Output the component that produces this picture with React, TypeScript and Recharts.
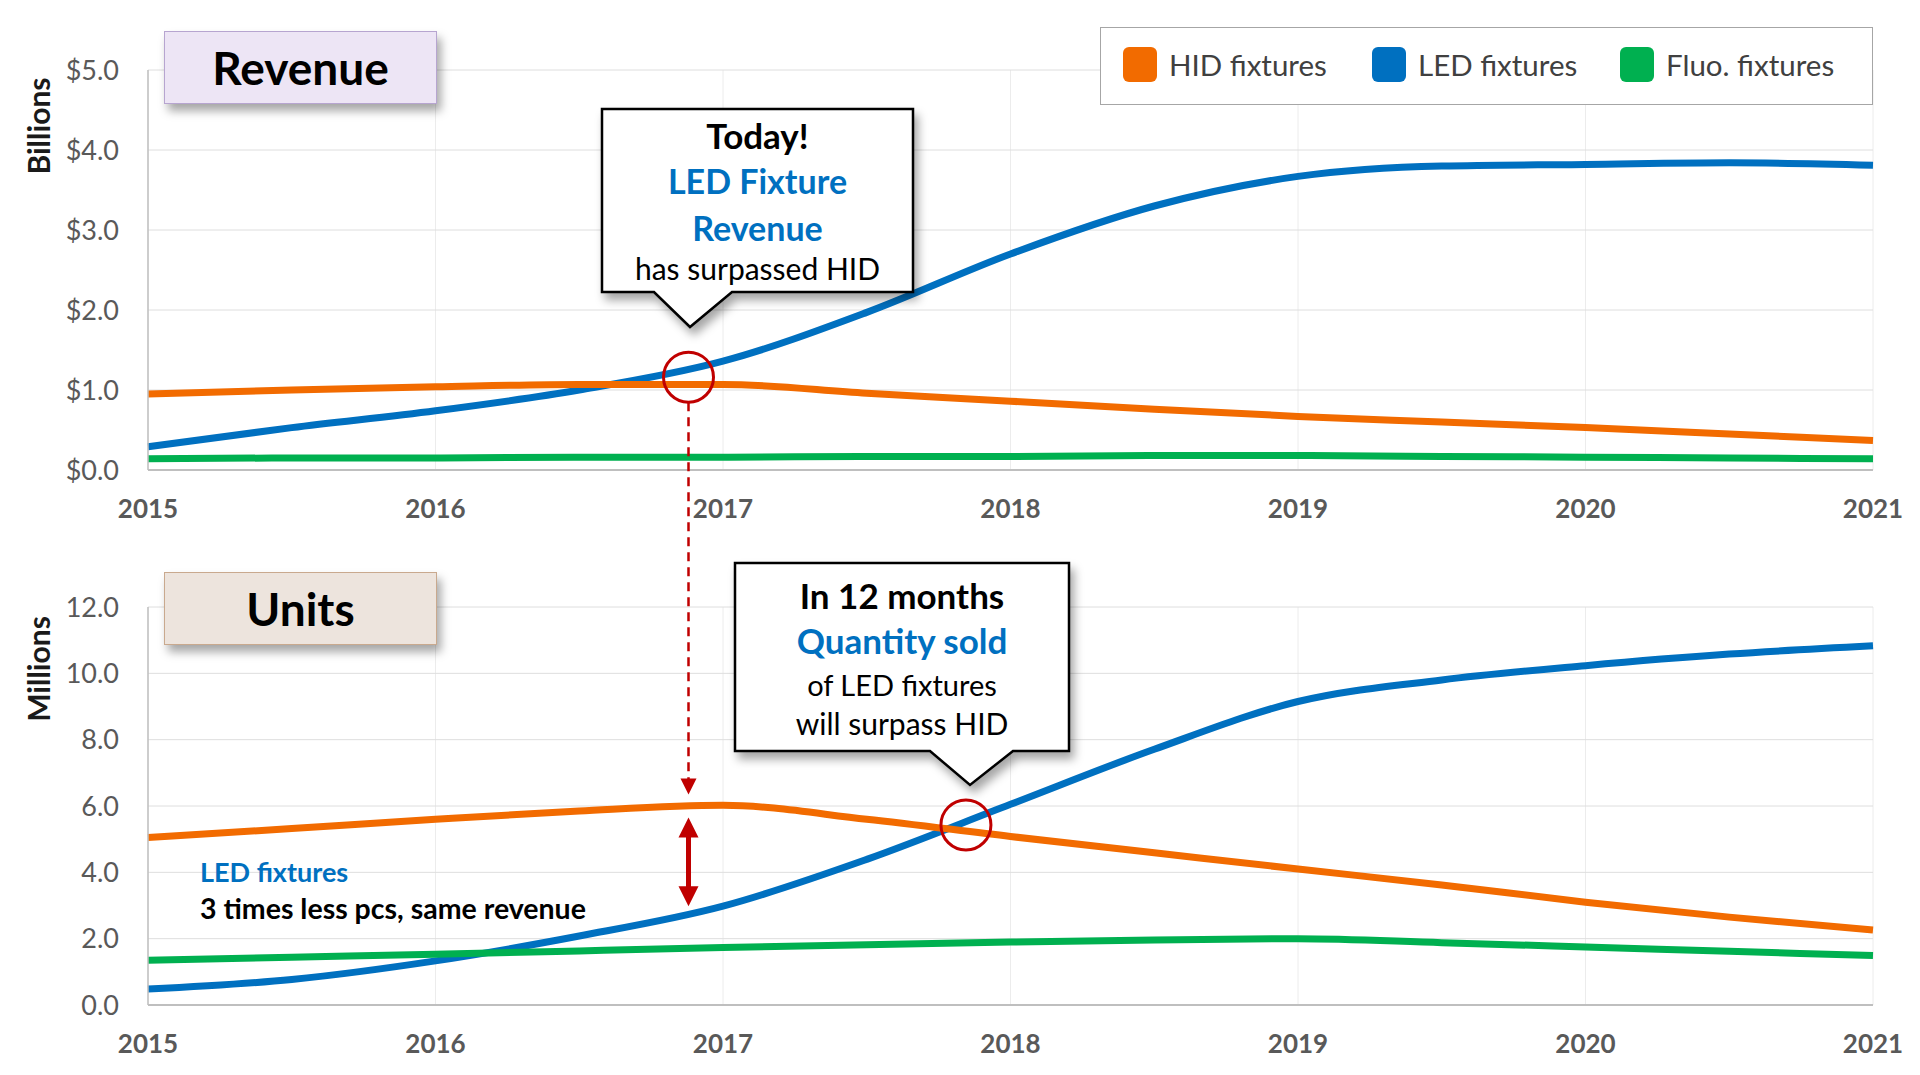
import { LineChart, Line, XAxis, YAxis, CartesianGrid, ReferenceDot } from 'recharts';

const FONT = 'Lato, "Open Sans", sans-serif';

const HID_COLOR = '#F26B00';
const LED_COLOR = '#0070C0';
const FLUO_COLOR = '#00B050';
const MARK_RED = '#C00000';

// half-year points, 2015 .. 2021
const periods = [2015, 2015.5, 2016, 2016.5, 2017, 2017.5, 2018, 2018.5, 2019, 2019.5, 2020, 2020.5, 2021];

// revenue, $ billions
const revenueHid = [0.95, 1.0, 1.04, 1.07, 1.07, 0.96, 0.86, 0.76, 0.67, 0.6, 0.53, 0.45, 0.37];
const revenueLed = [0.29, 0.53, 0.74, 1.0, 1.36, 1.97, 2.7, 3.3, 3.67, 3.8, 3.82, 3.84, 3.81];
const revenueFluo = [0.14, 0.15, 0.15, 0.16, 0.16, 0.17, 0.17, 0.18, 0.18, 0.17, 0.16, 0.15, 0.14];

// units sold, millions
const unitsHid = [5.05, 5.32, 5.6, 5.85, 6.02, 5.6, 5.08, 4.59, 4.1, 3.62, 3.1, 2.65, 2.26];
const unitsLed = [0.48, 0.77, 1.33, 2.08, 2.98, 4.39, 6.05, 7.71, 9.15, 9.8, 10.23, 10.58, 10.83];
const unitsFluo = [1.35, 1.44, 1.53, 1.63, 1.73, 1.82, 1.9, 1.96, 2.0, 1.88, 1.75, 1.62, 1.49];

const yearTicks = [2015, 2016, 2017, 2018, 2019, 2020, 2021];
const revenueTicks = [0, 1, 2, 3, 4, 5];
const unitsTicks = [0, 2, 4, 6, 8, 10, 12];

const legendItems = [
  { label: 'HID fixtures', color: HID_COLOR },
  { label: 'LED fixtures', color: LED_COLOR },
  { label: 'Fluo. fixtures', color: FLUO_COLOR },
];

// crossing points that get circled
const revenueCross = { t: 2016.88, v: 1.16 };
const unitsCross = { t: 2017.845, v: 5.43 };

const revenueData = periods.map((t, i) => ({ t, hid: revenueHid[i], led: revenueLed[i], fluo: revenueFluo[i] }));
const unitsData = periods.map((t, i) => ({ t, hid: unitsHid[i], led: unitsLed[i], fluo: unitsFluo[i] }));

// page layout of the two plot areas
const PLOT_LEFT = 148;
const PLOT_RIGHT = 1873;
const REV_TOP = 70;
const REV_BOTTOM = 470;
const UNIT_TOP = 607;
const UNIT_BOTTOM = 1005;

const xAt = (t: number) => PLOT_LEFT + ((t - 2015) / 6) * (PLOT_RIGHT - PLOT_LEFT);
const revY = (v: number) => REV_BOTTOM - (v / 5) * (REV_BOTTOM - REV_TOP);
const unitY = (v: number) => UNIT_BOTTOM - (v / 12) * (UNIT_BOTTOM - UNIT_TOP);

const tickStyle = { fill: '#595959', fontSize: 27, fontFamily: FONT };

interface PanelProps {
  data: { t: number; hid: number; led: number; fluo: number }[];
  height: number;
  top: number;
  ticks: number[];
  max: number;
  format: (v: number) => string;
  cross: { t: number; v: number };
}

function Panel({ data, height, top, ticks, max, format, cross }: PanelProps) {
  return (
    <LineChart
      width={1920}
      height={height}
      data={data}
      margin={{ top, right: 1920 - PLOT_RIGHT, bottom: 20, left: 0 }}
    >
      <CartesianGrid horizontal={false} stroke="#ECECEC" strokeWidth={1} />
      <CartesianGrid vertical={false} stroke="#DEDEDE" strokeWidth={1} />
      <XAxis
        dataKey="t"
        type="number"
        domain={[2015, 2021]}
        ticks={yearTicks}
        interval={0}
        height={50}
        tickSize={0}
        tickMargin={30}
        tick={{ ...tickStyle, fontSize: 26, fontWeight: 700 }}
        axisLine={{ stroke: '#BFBFBF', strokeWidth: 2 }}
        tickLine={false}
      />
      <YAxis
        type="number"
        domain={[0, max]}
        ticks={ticks}
        interval={0}
        width={PLOT_LEFT}
        tickSize={0}
        tickMargin={29}
        tickFormatter={format}
        tick={tickStyle}
        axisLine={{ stroke: '#BFBFBF', strokeWidth: 1.5 }}
        tickLine={false}
      />
      <Line type="monotone" dataKey="led" stroke={LED_COLOR} strokeWidth={7} dot={false} isAnimationActive={false} />
      <Line type="monotone" dataKey="hid" stroke={HID_COLOR} strokeWidth={7} dot={false} isAnimationActive={false} />
      <Line type="monotone" dataKey="fluo" stroke={FLUO_COLOR} strokeWidth={7} dot={false} isAnimationActive={false} />
      <ReferenceDot
        x={cross.t}
        y={cross.v}
        r={25}
        fill="none"
        stroke={MARK_RED}
        strokeWidth={3}
      />
    </LineChart>
  );
}

function TitleBox({ text, top, fill, border }: { text: string; top: number; fill: string; border: string }) {
  return (
    <div
      style={{
        position: 'absolute',
        left: 164,
        top,
        width: 271,
        height: 71,
        background: fill,
        border: `1.5px solid ${border}`,
        boxShadow: '4px 7px 9px rgba(0,0,0,0.35)',
        display: 'flex',
        alignItems: 'center',
        justifyContent: 'center',
        fontFamily: FONT,
        fontWeight: 700,
        fontSize: 46,
        color: '#000',
      }}
    >
      {text}
    </div>
  );
}

interface CalloutProps {
  left: number;
  right: number;
  top: number;
  bottom: number;
  baseLeft: number;
  baseRight: number;
  tipX: number;
  tipY: number;
}

function Callout({ left, right, top, bottom, baseLeft, baseRight, tipX, tipY }: CalloutProps) {
  const d = `M${left},${top} H${right} V${bottom} H${baseRight} L${tipX},${tipY} L${baseLeft},${bottom} H${left} Z`;
  return <path d={d} fill="#fff" stroke="#000" strokeWidth={2.5} strokeLinejoin="miter" filter="url(#calloutShadow)" />;
}

export default function App() {
  const crossX = xAt(revenueCross.t);
  const dashTop = revY(revenueCross.v) + 25;
  const dashTip = unitY(6.35);
  const dblTop = unitY(5.65);
  const dblBottom = unitY(2.98);
  const c1x = (602 + 913) / 2;
  const c2x = (735 + 1069) / 2;

  return (
    <div style={{ position: 'absolute', left: 0, top: 0, width: 1920, height: 1075, background: '#fff', overflow: 'hidden' }}>
      <div style={{ position: 'absolute', left: 0, top: 0 }}>
        <Panel
          data={revenueData}
          height={540}
          top={REV_TOP}
          ticks={revenueTicks}
          max={5}
          format={(v) => `$${v.toFixed(1)}`}
          cross={revenueCross}
        />
      </div>
      <div style={{ position: 'absolute', left: 0, top: 540 }}>
        <Panel
          data={unitsData}
          height={535}
          top={UNIT_TOP - 540}
          ticks={unitsTicks}
          max={12}
          format={(v) => v.toFixed(1)}
          cross={unitsCross}
        />
      </div>

      <TitleBox text="Revenue" top={31} fill="#EDE5F5" border="#B7A5D0" />
      <TitleBox text="Units" top={572} fill="#EDE4DD" border="#C9A98E" />

      {/* legend */}
      <div
        style={{
          position: 'absolute',
          left: 1100,
          top: 27,
          width: 771,
          height: 76,
          border: '1.5px solid #A6A6A6',
          background: '#fff',
          fontFamily: FONT,
          fontSize: 29.5,
          color: '#404040',
        }}
      >
        {legendItems.map((item, i) => (
          <div
            key={item.label}
            style={{ position: 'absolute', left: [22, 271, 519][i], top: 19, display: 'flex', alignItems: 'center' }}
          >
            <span style={{ width: 34, height: 35, borderRadius: 6, background: item.color, display: 'inline-block' }} />
            <span style={{ marginLeft: 12 }}>{item.label}</span>
          </div>
        ))}
      </div>

      <svg width={1920} height={1075} style={{ position: 'absolute', left: 0, top: 0, pointerEvents: 'none' }}>
        <defs>
          <filter id="calloutShadow" x="-20%" y="-20%" width="140%" height="150%">
            <feDropShadow dx={4} dy={7} stdDeviation={5} floodColor="#000" floodOpacity={0.35} />
          </filter>
        </defs>

        <text x={38} y={126} transform="rotate(-90 38 126)" textAnchor="middle" dominantBaseline="central"
          fontFamily={FONT} fontWeight={700} fontSize={30} fill="#1a1a1a">Billions</text>
        <text x={38} y={669} transform="rotate(-90 38 669)" textAnchor="middle" dominantBaseline="central"
          fontFamily={FONT} fontWeight={700} fontSize={30} fill="#1a1a1a">Millions</text>

        {/* dashed link from revenue crossing down to units */}
        <line x1={crossX} y1={dashTop} x2={crossX} y2={dashTip - 14} stroke={MARK_RED} strokeWidth={2.5} strokeDasharray="9 6" />
        <path d={`M${crossX - 8},${dashTip - 16} L${crossX + 8},${dashTip - 16} L${crossX},${dashTip} Z`} fill={MARK_RED} />

        {/* double arrow between HID and LED units */}
        <line x1={crossX} y1={dblTop + 18} x2={crossX} y2={dblBottom - 18} stroke={MARK_RED} strokeWidth={5} />
        <path d={`M${crossX - 10},${dblTop + 20} L${crossX + 10},${dblTop + 20} L${crossX},${dblTop} Z`} fill={MARK_RED} />
        <path d={`M${crossX - 10},${dblBottom - 20} L${crossX + 10},${dblBottom - 20} L${crossX},${dblBottom} Z`} fill={MARK_RED} />

        <Callout left={602} right={913} top={109} bottom={292} baseLeft={654} baseRight={732} tipX={690} tipY={327} />
        <g fontFamily={FONT} textAnchor="middle" dominantBaseline="central">
          <text x={c1x} y={135} fontSize={35} fontWeight={700} fill="#000">Today!</text>
          <text x={c1x} y={180} fontSize={34} fontWeight={700} fill={LED_COLOR}>LED Fixture</text>
          <text x={c1x} y={227} fontSize={34} fontWeight={700} fill={LED_COLOR}>Revenue</text>
          <text x={c1x} y={268} fontSize={30} fill="#000">has surpassed HID</text>
        </g>

        <Callout left={735} right={1069} top={563} bottom={751} baseLeft={930} baseRight={1013} tipX={970} tipY={785} />
        <g fontFamily={FONT} textAnchor="middle" dominantBaseline="central">
          <text x={c2x} y={595} fontSize={35} fontWeight={700} fill="#000">In 12 months</text>
          <text x={c2x} y={640} fontSize={35} fontWeight={700} fill={LED_COLOR}>Quantity sold</text>
          <text x={c2x} y={684} fontSize={29} fill="#000">of LED fixtures</text>
          <text x={c2x} y={723} fontSize={30} fill="#000">will surpass HID</text>
        </g>

        <g fontFamily={FONT} fontWeight={700} dominantBaseline="central">
          <text x={200} y={871} fontSize={27} fill={LED_COLOR}>LED fixtures</text>
          <text x={200} y={908} fontSize={28.5} fill="#000">3 times less pcs, same revenue</text>
        </g>
      </svg>
    </div>
  );
}
